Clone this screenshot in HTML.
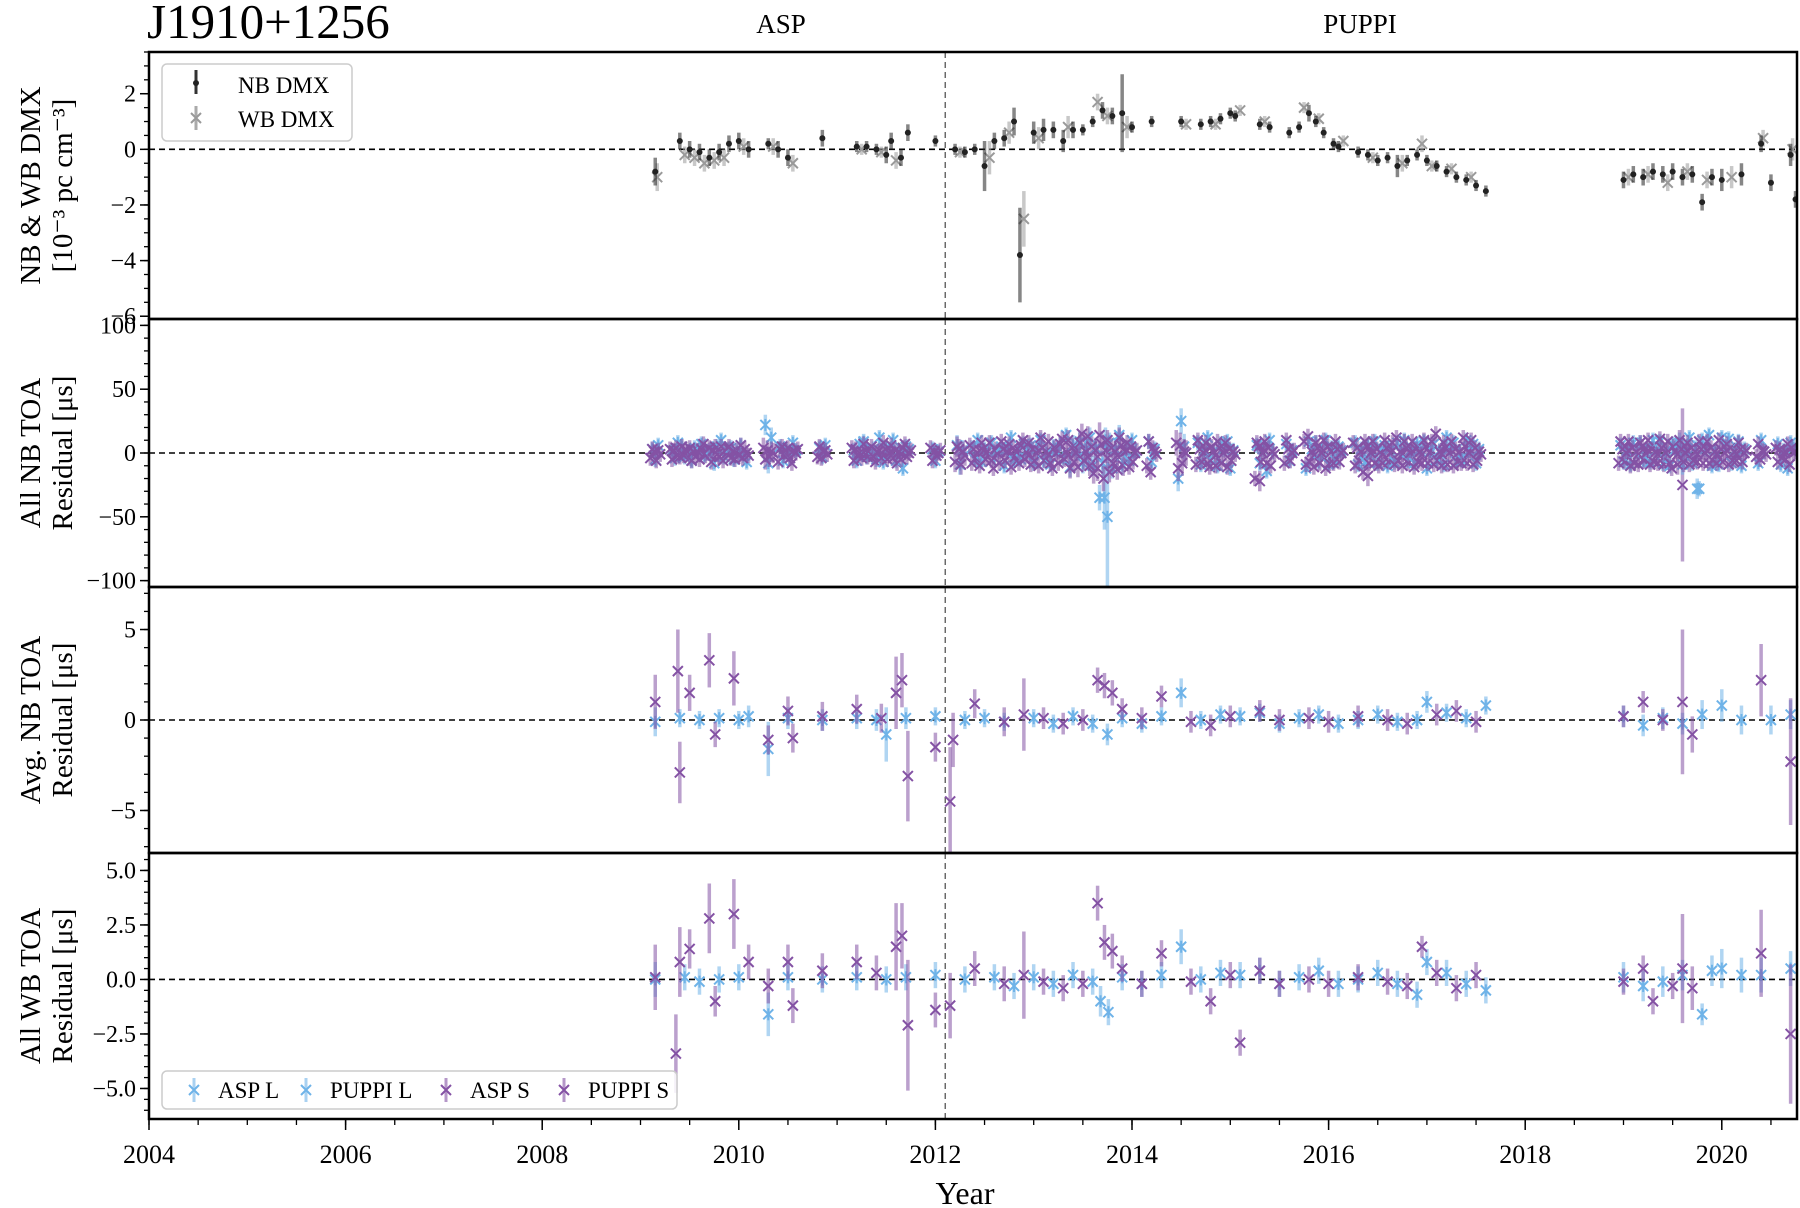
<!DOCTYPE html>
<html><head><meta charset="utf-8">
<style>
html,body{margin:0;padding:0;background:#fff;}
svg{display:block;font-family:"Liberation Serif","DejaVu Serif",serif;}
</style></head>
<body>
<svg id="chart" width="1800" height="1208" viewBox="0 0 1800 1208" xmlns="http://www.w3.org/2000/svg">
<text x="147" y="38" font-size="49">J1910+1256</text>
<text x="781" y="33" font-size="27" text-anchor="middle">ASP</text>
<text x="1360" y="33" font-size="27" text-anchor="middle">PUPPI</text>
<text x="965" y="1204" font-size="32" text-anchor="middle">Year</text>
<g id="layer"></g>
</svg>
<script>
// ---- data ----
const xTicks=[2004,2006,2008,2010,2012,2014,2016,2018,2020];
const p1Ticks=[-6,-4,-2,0,2];
const p2Ticks=[-100,-50,0,50,100];
const p3Ticks=[-5,0,5];
const p4Ticks=[-5,-2.5,0,2.5,5];
const p4TickLabels=["\u22125.0","\u22122.5","0.0","2.5","5.0"];
const backendSwitch=2012.1;
const nbDmx=[[2009.15,-0.8,0.5],[2009.4,0.3,0.3],[2009.5,0.0,0.3],[2009.6,-0.1,0.3],[2009.7,-0.3,0.3],[2009.8,-0.1,0.3],[2009.9,0.2,0.3],[2010.0,0.3,0.3],[2010.1,0.0,0.3],[2010.3,0.2,0.2],[2010.4,0.0,0.3],[2010.5,-0.3,0.3],[2010.85,0.4,0.3],[2011.2,0.1,0.2],[2011.3,0.1,0.2],[2011.4,0.0,0.2],[2011.5,-0.2,0.3],[2011.55,0.3,0.3],[2011.65,-0.3,0.3],[2011.72,0.6,0.3],[2012.0,0.3,0.2],[2012.2,0.0,0.2],[2012.3,-0.1,0.2],[2012.4,0.0,0.2],[2012.5,-0.6,0.9],[2012.6,0.3,0.3],[2012.7,0.4,0.3],[2012.8,1.0,0.5],[2012.86,-3.8,1.7],[2013.0,0.6,0.4],[2013.1,0.7,0.4],[2013.2,0.7,0.3],[2013.3,0.3,0.4],[2013.4,0.7,0.3],[2013.5,0.7,0.2],[2013.6,1.0,0.2],[2013.7,1.4,0.3],[2013.8,1.2,0.3],[2013.9,1.3,1.4],[2014.0,0.8,0.2],[2014.2,1.0,0.2],[2014.5,1.0,0.2],[2014.7,0.9,0.2],[2014.8,1.0,0.2],[2014.9,1.1,0.2],[2015.0,1.3,0.2],[2015.05,1.2,0.2],[2015.3,0.9,0.2],[2015.4,0.8,0.2],[2015.6,0.6,0.2],[2015.7,0.8,0.2],[2015.8,1.3,0.3],[2015.87,1.0,0.2],[2015.95,0.6,0.2],[2016.05,0.2,0.2],[2016.1,0.1,0.2],[2016.3,-0.1,0.2],[2016.4,-0.2,0.2],[2016.5,-0.4,0.2],[2016.6,-0.3,0.2],[2016.7,-0.6,0.4],[2016.8,-0.4,0.2],[2016.9,-0.2,0.2],[2017.0,-0.4,0.2],[2017.1,-0.6,0.2],[2017.2,-0.8,0.2],[2017.3,-1.0,0.2],[2017.4,-1.1,0.2],[2017.5,-1.3,0.2],[2017.6,-1.5,0.2],[2019.0,-1.1,0.3],[2019.1,-0.9,0.3],[2019.2,-1.0,0.3],[2019.3,-0.8,0.3],[2019.4,-0.9,0.3],[2019.5,-0.8,0.3],[2019.6,-1.0,0.3],[2019.7,-0.9,0.3],[2019.8,-1.9,0.3],[2019.9,-1.0,0.3],[2020.0,-1.1,0.4],[2020.2,-0.9,0.4],[2020.4,0.2,0.3],[2020.5,-1.2,0.3],[2020.7,-0.2,0.4],[2020.75,-1.8,0.3]];
const wbDmx=[[2009.17,-1.0,0.5],[2009.45,-0.2,0.3],[2009.55,-0.3,0.3],[2009.65,-0.5,0.3],[2009.75,-0.4,0.3],[2009.85,-0.3,0.3],[2010.05,0.1,0.3],[2010.35,0.1,0.3],[2010.55,-0.5,0.3],[2011.25,0.0,0.2],[2011.45,-0.1,0.2],[2011.6,-0.4,0.3],[2012.25,-0.1,0.2],[2012.55,-0.3,0.6],[2012.75,0.6,0.4],[2012.9,-2.5,1.0],[2013.05,0.4,0.4],[2013.35,0.8,0.4],[2013.65,1.7,0.3],[2013.75,1.2,0.3],[2013.95,0.8,0.4],[2014.55,0.9,0.2],[2014.85,0.9,0.2],[2015.1,1.4,0.2],[2015.35,1.0,0.2],[2015.75,1.5,0.2],[2015.9,1.1,0.2],[2016.15,0.3,0.2],[2016.45,-0.3,0.2],[2016.75,-0.5,0.3],[2016.95,0.2,0.3],[2017.05,-0.6,0.2],[2017.25,-0.7,0.2],[2017.45,-1.0,0.2],[2019.05,-1.0,0.3],[2019.25,-0.9,0.3],[2019.45,-1.2,0.3],[2019.65,-0.8,0.3],[2019.85,-1.1,0.3],[2020.1,-1.0,0.4],[2020.42,0.4,0.3],[2020.72,0.0,0.4]];
const nbEpochs=[2009.15,2009.35,2009.45,2009.55,2009.65,2009.75,2009.85,2009.95,2010.05,2010.3,2010.45,2010.55,2010.85,2011.2,2011.3,2011.4,2011.5,2011.6,2011.7,2012.0,2012.25,2012.4,2012.5,2012.6,2012.7,2012.8,2012.9,2013.0,2013.1,2013.2,2013.3,2013.4,2013.5,2013.6,2013.7,2013.8,2013.9,2014.0,2014.2,2014.5,2014.7,2014.8,2014.9,2015.0,2015.3,2015.4,2015.6,2015.8,2015.9,2016.0,2016.1,2016.3,2016.4,2016.5,2016.6,2016.7,2016.8,2016.9,2017.0,2017.1,2017.2,2017.3,2017.4,2017.5,2019.0,2019.1,2019.2,2019.3,2019.4,2019.5,2019.6,2019.7,2019.8,2019.9,2020.0,2020.1,2020.2,2020.4,2020.6,2020.7];
const nbBlue=[[3,-5,6],[2,-4,8],[5,-3,1],[-6,4,2],[7,-2,0],[3,-8,5],[10,-3,2],[4,-5,1],[6,-2,-7],[22,-8,12],[5,-6,3],[-4,8,2],[4,-3,6],[2,-6,7],[9,-3,1],[3,-5,12],[-7,4,0],[10,-6,2],[-12,5,3],[3,-6,1],[6,-9,2],[4,-5,10],[-7,3,1],[8,-4,2],[5,-10,3],[12,-6,1],[-5,7,2],[6,-8,3],[10,-6,0],[-9,5,2],[7,-4,14],[-11,6,2],[9,-8,3],[12,-10,4],[-35,-8,10],[8,-12,3],[14,-9,2],[-6,10,1],[9,-7,3],[-20,25,5],[8,-9,2],[12,-6,1],[-10,7,3],[9,-12,2],[6,-8,3],[-14,10,1],[7,-6,2],[-12,9,3],[8,-7,1],[10,-9,4],[-6,5,2],[8,-9,3],[-7,6,1],[9,-8,2],[6,-10,3],[-7,8,1],[10,-6,2],[-8,7,3],[9,-12,1],[7,-6,2],[-9,12,3],[8,-7,1],[-6,10,2],[7,-8,3],[6,-7,2],[-9,8,1],[8,-6,3],[-7,10,2],[9,-8,1],[-10,7,3],[8,-9,2],[12,-8,4],[-28,10,3],[14,-10,2],[-9,12,5],[11,-8,2],[9,-10,3],[-8,10,1],[7,-9,2],[-12,8,4]];
const nbPurple=[[-4,3,1,-6,2,-1],[3,-5,2,4,-2,0],[-3,5,-2,3,1,-4],[4,-6,1,-3,2,0],[-5,3,7,-2,0,2],[4,-7,2,5,-1,-3],[-3,5,-6,2,0,3],[5,-4,1,-5,2,-1],[-2,6,-4,3,0,-2],[4,-5,2,-3,1,0],[-7,3,5,-2,1,-1],[4,-4,-8,2,0,3],[-3,5,-4,1,2,-1],[4,-6,3,-2,0,1],[-4,7,2,-3,0,1],[5,-3,-7,1,2,-2],[-4,8,3,-5,0,1],[6,-4,2,-8,1,-1],[-5,4,7,-3,0,2],[4,-6,1,-2,0,2],[-7,5,3,-9,1,-2],[6,-8,3,-4,0,2],[-10,8,2,-5,1,-1],[8,-6,-12,3,0,1],[-8,9,3,-6,1,-2],[7,-11,4,-3,0,2],[-8,6,10,-5,1,-2],[8,-9,3,-6,0,2],[-10,12,4,-6,1,-2],[9,-8,-12,4,0,1],[-8,7,11,-5,1,-2],[10,-12,4,-7,0,2],[-11,8,15,-6,1,-3],[13,-10,5,-16,2,-3],[-12,14,7,-20,2,-4],[10,-15,4,-8,1,-2],[-13,12,6,-10,1,2],[8,-11,5,-7,0,2],[-10,9,-15,4,1,-1],[8,-12,6,-8,1,0],[-9,10,3,-7,0,2],[8,-8,-11,5,1,-2],[-10,9,4,-8,0,2],[8,-11,3,-6,1,-1],[-20,8,5,-7,0,2],[9,-8,4,-10,1,-1],[-8,10,3,-6,0,2],[9,-9,13,-7,1,-2],[-11,8,4,-8,0,2],[10,-12,5,-8,1,-1],[-8,9,3,-7,0,2],[8,-10,4,-6,1,-1],[-15,9,5,-8,0,2],[9,-8,3,-10,1,-1],[-8,10,4,-7,0,2],[8,-9,12,-6,1,-1],[-10,9,4,-8,0,2],[9,-11,3,-7,1,-1],[-8,10,5,-8,0,2],[9,-9,15,-6,1,-1],[-10,8,4,-9,0,2],[9,-10,3,-7,1,-1],[-8,12,5,-8,0,2],[10,-9,4,-6,1,-1],[-8,9,3,-7,0,2],[9,-10,4,-8,1,-1],[-9,8,5,-6,0,2],[10,-9,3,-7,1,-1],[-8,11,4,-9,0,2],[9,-8,-12,5,1,-1],[-9,10,3,-7,0,2],[8,-9,4,-6,1,-1],[-7,9,3,-8,0,2],[9,-8,4,-6,1,-1],[-8,10,3,-7,0,2],[7,-9,4,-6,1,-1],[-6,8,3,-7,0,2],[-3,7,-5,2,1,-1],[4,-7,3,-4,0,1],[-5,7,-9,4,0,1]];
const nbErr=[6,6,6,6,6,6,6,6,6,8,6,6,6,6,6,6,6,6,6,6,8,6,6,6,6,6,6,6,6,6,6,8,8,8,10,8,8,6,6,10,6,6,6,6,6,6,6,6,6,6,6,6,6,6,6,6,6,6,6,6,6,6,6,6,6,6,6,6,6,6,8,6,6,6,6,6,6,6,6,6];
// NB residual outliers [year, value, err]
const nbBlueOut=[[2013.75,-50,55],[2013.72,-35,25],[2019.75,-28,8]];
const nbPurpleOut=[[2019.6,-25,60],[2015.3,-22,8],[2016.4,-18,8]];
const avgBlue=[[2009.15,-0.1,0.8],[2009.4,0.1,0.5],[2009.6,0.0,0.5],[2009.8,0.1,0.5],[2010.0,0.0,0.5],[2010.1,0.2,0.6],[2010.3,-1.6,1.5],[2010.5,0.1,0.6],[2010.85,0.0,0.6],[2011.2,0.1,0.6],[2011.4,0.0,0.6],[2011.5,-0.8,1.5],[2011.7,0.1,0.6],[2012.0,0.2,0.5],[2012.3,0.0,0.5],[2012.5,0.1,0.5],[2012.7,-0.1,0.5],[2013.0,0.1,0.5],[2013.2,-0.2,0.5],[2013.4,0.2,0.5],[2013.6,-0.2,0.5],[2013.75,-0.8,0.6],[2013.9,0.1,0.5],[2014.1,-0.2,0.5],[2014.3,0.2,0.5],[2014.5,1.5,0.8],[2014.7,0.0,0.5],[2014.9,0.3,0.5],[2015.1,0.2,0.5],[2015.3,0.4,0.5],[2015.5,-0.2,0.5],[2015.7,0.1,0.5],[2015.9,0.3,0.5],[2016.1,-0.2,0.5],[2016.3,0.0,0.5],[2016.5,0.3,0.5],[2016.7,-0.1,0.5],[2016.9,0.0,0.5],[2017.0,1.0,0.6],[2017.2,0.4,0.5],[2017.4,0.1,0.5],[2017.6,0.8,0.5],[2019.0,0.2,0.6],[2019.2,-0.3,0.6],[2019.4,0.1,0.6],[2019.6,-0.2,0.6],[2019.8,0.3,0.8],[2020.0,0.8,0.9],[2020.2,0.0,0.8],[2020.5,0.0,0.8],[2020.7,0.3,0.8]];
const avgPurple=[[2009.15,1.0,1.5],[2009.38,2.7,2.3],[2009.4,-2.9,1.7],[2009.5,1.5,1.0],[2009.7,3.3,1.5],[2009.76,-0.8,0.7],[2009.95,2.3,1.5],[2010.3,-1.1,0.8],[2010.5,0.5,0.8],[2010.55,-1.0,0.8],[2010.85,0.2,0.8],[2011.2,0.6,0.8],[2011.45,0.1,0.8],[2011.6,1.5,2.0],[2011.66,2.2,1.5],[2011.72,-3.1,2.5],[2012.0,-1.5,0.8],[2012.15,-4.5,3.0],[2012.18,-1.1,1.5],[2012.4,0.9,0.8],[2012.7,-0.1,0.8],[2012.9,0.3,2.0],[2013.1,0.1,0.6],[2013.3,-0.2,0.6],[2013.5,0.0,0.6],[2013.65,2.2,0.7],[2013.72,1.9,0.7],[2013.8,1.5,0.7],[2013.9,0.6,0.6],[2014.1,0.1,0.6],[2014.3,1.3,0.6],[2014.6,-0.1,0.6],[2014.8,-0.3,0.6],[2015.0,0.2,0.6],[2015.3,0.5,0.6],[2015.5,0.0,0.6],[2015.8,0.1,0.6],[2016.0,-0.1,0.6],[2016.3,0.2,0.6],[2016.6,0.0,0.6],[2016.8,-0.2,0.6],[2017.1,0.3,0.6],[2017.3,0.5,0.6],[2017.5,-0.1,0.6],[2019.0,0.2,0.6],[2019.2,1.0,0.6],[2019.4,0.0,0.6],[2019.6,1.0,4.0],[2019.7,-0.8,1.0],[2020.4,2.2,2.0],[2020.7,-2.3,3.5]];
const wbBlue=[[2009.15,0.0,0.8],[2009.45,0.1,0.6],[2009.6,-0.1,0.6],[2009.8,0.0,0.6],[2010.0,0.1,0.6],[2010.3,-1.6,1.0],[2010.5,0.1,0.6],[2010.85,0.0,0.6],[2011.2,0.1,0.6],[2011.5,0.0,0.6],[2011.7,0.1,0.6],[2012.0,0.2,0.6],[2012.3,0.0,0.6],[2012.6,0.1,0.6],[2012.8,-0.3,0.6],[2013.0,0.1,0.6],[2013.2,-0.2,0.6],[2013.4,0.2,0.6],[2013.6,-0.1,0.6],[2013.68,-1.0,0.7],[2013.76,-1.5,0.6],[2013.9,0.1,0.6],[2014.1,-0.2,0.6],[2014.3,0.2,0.6],[2014.5,1.5,0.8],[2014.7,0.0,0.6],[2014.9,0.3,0.6],[2015.1,0.2,0.6],[2015.3,0.4,0.6],[2015.5,-0.2,0.6],[2015.7,0.1,0.6],[2015.9,0.4,0.6],[2016.1,-0.2,0.6],[2016.3,0.0,0.6],[2016.5,0.3,0.6],[2016.7,-0.2,0.6],[2016.9,-0.7,0.6],[2017.0,0.8,0.6],[2017.2,0.3,0.6],[2017.4,-0.2,0.6],[2017.6,-0.5,0.6],[2019.0,0.1,0.7],[2019.2,-0.3,0.7],[2019.4,-0.1,0.7],[2019.6,0.2,0.7],[2019.8,-1.6,0.5],[2019.9,0.4,0.7],[2020.0,0.5,0.9],[2020.2,0.2,0.8],[2020.4,0.2,0.8],[2020.7,0.5,0.8]];
const wbPurple=[[2009.15,0.1,1.5],[2009.36,-3.4,1.8],[2009.4,0.8,1.6],[2009.5,1.4,0.9],[2009.7,2.8,1.6],[2009.76,-1.0,0.7],[2009.95,3.0,1.6],[2010.1,0.8,0.8],[2010.3,-0.3,0.8],[2010.5,0.8,0.8],[2010.55,-1.2,0.8],[2010.85,0.4,0.8],[2011.2,0.8,0.8],[2011.4,0.3,0.8],[2011.6,1.5,2.0],[2011.66,2.0,1.5],[2011.72,-2.1,3.0],[2012.0,-1.4,0.8],[2012.15,-1.2,1.5],[2012.4,0.5,0.8],[2012.7,-0.2,0.8],[2012.9,0.2,2.0],[2013.1,-0.1,0.6],[2013.3,-0.4,0.6],[2013.5,-0.2,0.6],[2013.65,3.5,0.8],[2013.72,1.7,0.8],[2013.8,1.3,0.8],[2013.9,0.5,0.6],[2014.1,-0.2,0.6],[2014.3,1.2,0.6],[2014.6,-0.1,0.6],[2014.8,-1.0,0.6],[2015.0,0.2,0.6],[2015.1,-2.9,0.6],[2015.3,0.4,0.6],[2015.5,-0.2,0.6],[2015.8,0.0,0.6],[2016.0,-0.2,0.6],[2016.3,0.1,0.6],[2016.6,-0.1,0.6],[2016.8,-0.3,0.6],[2016.95,1.5,0.5],[2017.1,0.3,0.6],[2017.3,-0.4,0.6],[2017.5,0.2,0.6],[2019.0,-0.1,0.6],[2019.2,0.5,0.6],[2019.3,-1.0,0.6],[2019.5,-0.3,0.6],[2019.6,0.5,2.5],[2019.7,-0.4,1.0],[2020.4,1.2,2.0],[2020.7,-2.5,3.2]];

// ---- layout ----
const L=149,R=1797;
const X=t=>L+(t-2004)*98.3;
const panels=[{t:52,b:319,min:-6.1,max:3.5},{t:319,b:587,min:-105,max:105},{t:587,b:853,min:-7.35,max:7.35},{t:853,b:1119,min:-6.4,max:5.8}];
const Yf=p=>v=>p.b-(v-p.min)/(p.max-p.min)*(p.b-p.t);
const NS="http://www.w3.org/2000/svg";
const layer=document.getElementById('layer');
function mk(tag,attrs,parent){const e=document.createElementNS(NS,tag);for(const k in attrs)e.setAttribute(k,attrs[k]);(parent||layer).appendChild(e);return e;}
function clip(i){const d=mk('clipPath',{id:'c'+i});mk('rect',{x:L,y:panels[i].t,width:R-L,height:panels[i].b-panels[i].t},d);return 'url(#c'+i+')';}
const BLUE='#6fb3e8',PURP='#8452a4';
function xmark(g,cx,cy,s,col,w){mk('path',{d:`M${cx-s},${cy-s}L${cx+s},${cy+s}M${cx-s},${cy+s}L${cx+s},${cy-s}`,stroke:col,'stroke-width':w,fill:'none'},g);}
function errPt(g,t,v,e,col,y,kind){
  const cx=X(t),cy=y(v);
  const bar=mk('line',{x1:cx,x2:cx,y1:y(v+e),y2:y(v-e),stroke:col,'stroke-width':3.5,'stroke-opacity':0.55},g);
  
  
  if(kind==='dot'){mk('circle',{cx:cx,cy:cy,r:3,fill:col},g);}
  else{xmark(g,cx,cy,5,col,2);if(kind==='blue'){mk('line',{x1:cx,x2:cx,y1:cy-6,y2:cy+6,stroke:col,'stroke-width':2},g);}}
}
panels.forEach((p,i)=>{
  const y=Yf(p);
  const g=mk('g',{'clip-path':clip(i)});
  
  
  mk('line',{x1:L,x2:R,y1:y(0),y2:y(0),stroke:'#000','stroke-width':1.6,'stroke-dasharray':'6,4'},g);
  mk('line',{x1:X(backendSwitch),x2:X(backendSwitch),y1:p.t,y2:p.b,stroke:'#555','stroke-width':1.3,'stroke-dasharray':'6,4'},g);
  if(i===0){
    wbDmx.forEach(d=>errPt(g,d[0],d[1],d[2],'#9a9a9a',y,'x'));
    nbDmx.forEach(d=>errPt(g,d[0],d[1],d[2],'#222',y,'dot'));
  }
  if(i===1){
    nbBlueOut.forEach(d=>errPt(g,d[0],d[1],d[2],BLUE,y,'blue'));
    nbPurpleOut.forEach(d=>errPt(g,d[0],d[1],d[2],PURP,y,'x'));
    nbEpochs.forEach((t,k)=>{
      nbBlue[k].forEach((v,j)=>errPt(g,t+(j-1)*0.03,v,nbErr[k],BLUE,y,'blue'));
      nbPurple[k].forEach((v,j)=>errPt(g,t+(j-2.5)*0.02,v,nbErr[k],PURP,y,'x'));
    });
  }
  if(i===2){avgBlue.forEach(d=>errPt(g,d[0],d[1],d[2],BLUE,y,'blue'));avgPurple.forEach(d=>errPt(g,d[0],d[1],d[2],PURP,y,'x'));}
  if(i===3){wbBlue.forEach(d=>errPt(g,d[0],d[1],d[2],BLUE,y,'blue'));wbPurple.forEach(d=>errPt(g,d[0],d[1],d[2],PURP,y,'x'));}
  const ticks=[p1Ticks,p2Ticks,p3Ticks,p4Ticks][i];
  const minor=[0.5,10,1,0.5][i];
  const ax=mk('g',{});
  
  
  for(let v=Math.ceil(p.min/minor)*minor;v<=p.max;v+=minor){const yy=y(v);mk('line',{x1:L-5,x2:L,y1:yy,y2:yy,stroke:'#000','stroke-width':1.3},ax);}
  ticks.forEach((v,k)=>{const yy=y(v);mk('line',{x1:L-9,x2:L,y1:yy,y2:yy,stroke:'#000','stroke-width':1.5},ax);
    const lab=i===3?p4TickLabels[k]:(v<0?'\u2212'+(-v):''+v);
    const tx=mk('text',{x:L-13,y:yy+8,'font-size':24,'text-anchor':'end'},ax);tx.textContent=lab;});
  mk('rect',{x:L,y:p.t,width:R-L,height:p.b-p.t,fill:'none',stroke:'#000','stroke-width':2.5});
});
const xa=mk('g',{});


for(let t=2004;t<=2020.75;t+=0.5){mk('line',{x1:X(t),x2:X(t),y1:1119,y2:1125,stroke:'#000','stroke-width':1.3},xa);}
xTicks.forEach(t=>{mk('line',{x1:X(t),x2:X(t),y1:1119,y2:1130,stroke:'#000','stroke-width':1.5},xa);const tx=mk('text',{x:X(t),y:1163,'font-size':26,'text-anchor':'middle'},xa);tx.textContent=t;});
const yTitles=[["NB & WB DMX","[10\u207B\u00B3 pc cm\u207B\u00B3]"],["All NB TOA","Residual [\u03BCs]"],["Avg. NB TOA","Residual [\u03BCs]"],["All WB TOA","Residual [\u03BCs]"]];
panels.forEach((p,i)=>{const cy=(p.t+p.b)/2;
  const g=mk('g',{transform:`translate(0,${cy}) rotate(-90)`});
  
  
  const a=mk('text',{x:0,y:40,'font-size':29,'text-anchor':'middle'},g);a.textContent=yTitles[i][0];
  const b=mk('text',{x:0,y:72,'font-size':29,'text-anchor':'middle'},g);b.textContent=yTitles[i][1];});
const lg1=mk('g',{});


mk('rect',{x:162,y:64,width:190,height:77,rx:5,fill:'#fff','fill-opacity':0.85,stroke:'#ccc','stroke-width':1.5},lg1);
mk('line',{x1:196,x2:196,y1:70,y2:94,stroke:'#333','stroke-width':3},lg1);mk('circle',{cx:196,cy:83,r:3,fill:'#222'},lg1);
mk('line',{x1:196,x2:196,y1:106,y2:130,stroke:'#aaa','stroke-width':3},lg1);xmark(lg1,196,118,5,'#999',2);
let t1=mk('text',{x:238,y:93,'font-size':23},lg1);t1.textContent='NB DMX';
let t2=mk('text',{x:238,y:127,'font-size':23},lg1);t2.textContent='WB DMX';
const lg2=mk('g',{});


mk('rect',{x:162,y:1071,width:515,height:38,rx:5,fill:'#fff','fill-opacity':0.85,stroke:'#ccc','stroke-width':1.5},lg2);
[["ASP L",BLUE,'blue',194],["PUPPI L",BLUE,'blue',306],["ASP S",PURP,'x',446],["PUPPI S",PURP,'x',564]].forEach(e=>{
  mk('line',{x1:e[3],x2:e[3],y1:1078,y2:1102,stroke:e[1],'stroke-width':3,'stroke-opacity':0.6},lg2);
  xmark(lg2,e[3],1090,5,e[1],2);
  const tx=mk('text',{x:e[3]+24,y:1098,'font-size':23},lg2);tx.textContent=e[0];});
</script>
</body></html>
